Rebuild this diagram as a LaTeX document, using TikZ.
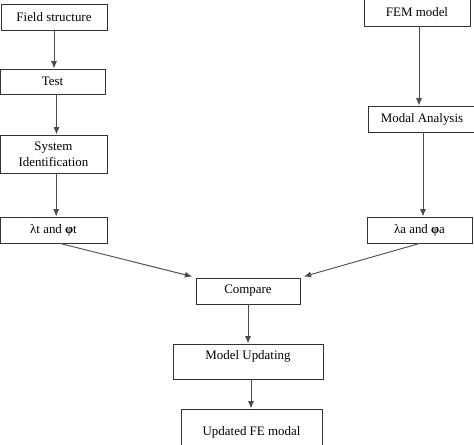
\documentclass[tikz,border=0pt]{standalone}
\usepackage{fontspec}
\setmainfont{Liberation Serif}
\usetikzlibrary{arrows.meta}
\begin{document}
\begin{tikzpicture}[x=0.75pt,y=-0.75pt,
  box/.style={draw=black!80, line width=0.7pt, rectangle, inner sep=1pt,
    font=\fontsize{9.7pt}{11.7pt}\selectfont, align=center},
  arr/.style={draw=black!70, line width=0.7pt, -{Latex[length=5.5pt,width=4.5pt]}}]
\useasboundingbox (0,0) rectangle (474,445);
\node[box, minimum width=79.5pt, minimum height=19.5pt] (field) at (54,17) {Field structure};
\node[box, minimum width=78.75pt, minimum height=18.75pt] (test) at (52.5,81.5) {Test};
\node[box, minimum width=80.25pt, minimum height=28.5pt] (sysid) at (53.5,154) {System\\Identification};
\node[box, minimum width=80.25pt, minimum height=19.5pt] (lt) at (53.5,230) {λt and \textbf{φ}t};
\node[box, minimum width=79.5pt, minimum height=20.25pt] (fem) at (417,12.5) {FEM model};
\node[box, minimum width=81pt, minimum height=19.5pt] (modal) at (422,119) {Modal Analysis};
\node[box, minimum width=78.75pt, minimum height=19.5pt] (la) at (419.5,230) {λa and \textbf{φ}a};
\node[box, minimum width=78pt, minimum height=19.5pt] (cmp) at (248,291) {Compare};
\node[box, minimum width=112.5pt, minimum height=26.25pt, text depth=9pt] (upd) at (248,361.5) {Model Updating};
\node[box, minimum width=105.75pt, minimum height=34.5pt] (fin) at (251.5,432) {Updated FE modal};
\draw[arr] (field.south) -- (field.south |- test.north);
\draw[arr] ([xshift=3pt]test.south) -- ([xshift=3pt]test.south |- sysid.north);
\draw[arr] ([xshift=2pt]sysid.south) -- ([xshift=2pt]sysid.south |- lt.north);
\draw[arr] ([xshift=1.5pt]fem.south) -- ([xshift=1.5pt]fem.south |- modal.north);
\draw[arr] ([xshift=0.75pt]modal.south) -- ([xshift=0.75pt]modal.south |- la.north);
\draw[arr] ([xshift=5pt]lt.south) -- ([xshift=-2.5pt,yshift=0.75pt]cmp.north west);
\draw[arr] (la.south) -- ([xshift=2.5pt,yshift=0.75pt]cmp.north east);
\draw[arr] (cmp.south) -- (cmp.south |- upd.north);
\draw[arr] ([xshift=2.25pt]upd.south) -- ([xshift=2.25pt]upd.south |- fin.north);
\end{tikzpicture}
\end{document}
